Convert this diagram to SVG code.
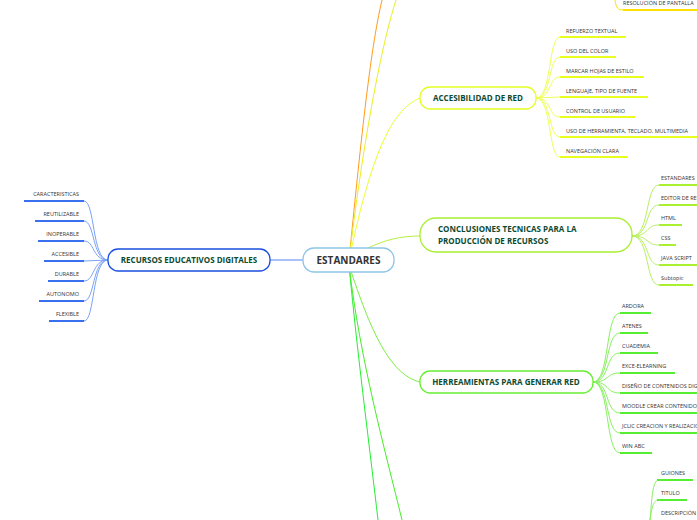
<svg xmlns="http://www.w3.org/2000/svg" width="697" height="520" viewBox="0 0 697 520">
<style>
.n{fill:#fff;stroke-width:1.3}
.t{font-family:"Open Sans",sans-serif;font-weight:bold;font-size:8px;fill:#0d4a30}
.l{font-family:"Open Sans",sans-serif;font-size:5.5px;fill:#333}
.c{fill:none;stroke-width:1}
.u{stroke-width:2}
</style>
<rect width="697" height="520" fill="#fff"/>
<g id="connectors">
<path class="c" d="M349 260 C360 150 370 50 382 0" stroke="#ff9b1a" stroke-width="1.6"/>
<path class="c" d="M349 260 C362 150 380 50 396 0" stroke="#e8f020" stroke-width="1.2"/>
<path class="c" d="M349 260 C370 160 390 110 420 98" stroke="#e8ff30"/>
<path class="c" d="M368 248 C385 240 400 236 420 236" stroke="#b4f040"/>
<path class="c" d="M349 265 C370 330 390 375 420 382" stroke="#7aee40"/>
<path class="c" d="M349 265 C358 360 370 450 378 520" stroke="#22ee33" stroke-width="1.6"/>
<path class="c" d="M349 265 C360 360 385 450 402 520" stroke="#44ee22" stroke-width="1.3"/>
<path class="c" d="M303 260 L270 260" stroke="#5585f0" stroke-width="1.3"/>
<g stroke="#7aa2f5" class="c">
<path d="M108 260 C92 260 95 201 84 201"/><path d="M108 260 C92 260 95 221 84 221"/><path d="M108 260 C92 260 95 241 84 241"/><path d="M108 260 L84 261"/><path d="M108 260 C92 260 95 281 84 281"/><path d="M108 260 C92 260 95 301 84 301"/><path d="M108 260 C92 260 95 321 84 321"/>
</g>
<g stroke="#3a6ff0" class="u">
<line x1="24" y1="201" x2="84" y2="201"/><line x1="35" y1="221" x2="84" y2="221"/><line x1="38" y1="241" x2="84" y2="241"/><line x1="44" y1="261" x2="84" y2="261"/><line x1="48" y1="281" x2="84" y2="281"/><line x1="39" y1="301" x2="84" y2="301"/><line x1="49" y1="321" x2="84" y2="321"/>
</g>
<g stroke="#eeff55" class="c">
<path d="M536 98 C552 98 548 37 560 37"/><path d="M536 98 C552 98 548 57 560 57"/><path d="M536 98 C552 98 548 77 560 77"/><path d="M536 98 L560 97"/><path d="M536 98 C552 98 548 117 560 117"/><path d="M536 98 C552 98 548 137 560 137"/><path d="M536 98 C552 98 548 157 560 157"/>
<path d="M615 0 C616 8 618 10 623 10" stroke="#ffe000"/>
</g>
<g stroke="#e8ff20" class="u">
<line x1="560" y1="37" x2="626" y2="37"/><line x1="560" y1="57" x2="616" y2="57"/><line x1="560" y1="77" x2="644" y2="77"/><line x1="560" y1="97" x2="648" y2="97"/><line x1="560" y1="117" x2="635" y2="117"/><line x1="560" y1="137" x2="697" y2="137"/><line x1="560" y1="157" x2="628" y2="157"/>
<line x1="623" y1="10" x2="697" y2="10" stroke="#ffe000"/>
</g>
<g stroke="#b8f060" class="c">
<path d="M632 236 C650 236 645 185 659 185"/><path d="M632 236 C650 236 645 205 659 205"/><path d="M632 236 C650 236 645 225 659 225"/><path d="M632 236 C650 236 645 245 659 245"/><path d="M632 236 C650 236 645 265 659 265"/><path d="M632 236 C650 236 645 285 659 285"/>
</g>
<g stroke="#a8f030" class="u">
<line x1="659" y1="185" x2="697" y2="185"/><line x1="659" y1="205" x2="697" y2="205"/><line x1="659" y1="225" x2="682" y2="225"/><line x1="659" y1="245" x2="676" y2="245"/><line x1="659" y1="265" x2="697" y2="265"/><line x1="659" y1="285" x2="693" y2="285"/>
</g>
<g stroke="#88f060" class="c">
<path d="M593 382 C610 382 605 313 620 313"/><path d="M593 382 C610 382 605 333 620 333"/><path d="M593 382 C610 382 605 353 620 353"/><path d="M593 382 C610 382 605 373 620 373"/><path d="M593 382 C610 382 605 393 620 393"/><path d="M593 382 C610 382 605 413 620 413"/><path d="M593 382 C610 382 605 433 620 433"/><path d="M593 382 C610 382 605 453 620 453"/>
<path d="M650 520 C652 500 652 480 659 480"/><path d="M650 520 C652 505 654 500 659 500"/>
</g>
<g stroke="#55ee33" class="u">
<line x1="620" y1="313" x2="651" y2="313"/><line x1="620" y1="333" x2="648" y2="333"/><line x1="620" y1="353" x2="658" y2="353"/><line x1="620" y1="373" x2="675" y2="373"/><line x1="620" y1="393" x2="697" y2="393"/><line x1="620" y1="413" x2="697" y2="413"/><line x1="620" y1="433" x2="697" y2="433"/><line x1="620" y1="453" x2="652" y2="453"/>
<line x1="657" y1="480" x2="693" y2="480"/><line x1="657" y1="500" x2="687" y2="500"/>
</g>
</g>
<g id="estandares"><rect class="n" x="303" y="248" width="91" height="24" rx="11" stroke="#8ec5e8" stroke-width="2"/><text x="348.5" y="264" text-anchor="middle" style="font-family:'Open Sans',sans-serif;font-weight:bold;font-size:10px;fill:#333">ESTANDARES</text></g>
<g id="recursos"><rect class="n" x="108" y="249" width="162" height="22" rx="10" stroke="#1a4fe0"/><text class="t" x="189" y="263" text-anchor="middle">RECURSOS EDUCATIVOS DIGITALES</text></g>
<g id="accesibilidad"><rect class="n" x="420" y="87" width="116" height="22" rx="10" stroke="#e4ff22"/><text class="t" x="478" y="101" text-anchor="middle">ACCESIBILIDAD DE RED</text></g>
<g id="conclusiones"><rect class="n" x="420" y="218" width="212" height="34" rx="16" stroke="#a8f030"/><text class="t" x="438" y="232">CONCLUSIONES TECNICAS PARA LA</text><text class="t" x="438" y="244">PRODUCCIÓN DE RECURSOS</text></g>
<g id="herramientas"><rect class="n" x="420" y="371" width="173" height="22" rx="10" stroke="#66ee33"/><text class="t" x="506" y="385" text-anchor="middle">HERREAMIENTAS PARA GENERAR RED</text></g>
<g id="leaves">
<g class="l" text-anchor="end"><text x="79" y="196">CARACTERISTICAS</text><text x="79" y="216">REUTILIZABLE</text><text x="79" y="236">INOPERABLE</text><text x="79" y="256">ACCESIBLE</text><text x="79" y="276">DURABLE</text><text x="79" y="296">AUTONOMO</text><text x="79" y="316">FLEXIBLE</text></g>
<g class="l"><text x="623" y="5">RESOLUCIÓN DE PANTALLA</text>
<text x="566" y="33">REFUERZO TEXTUAL</text><text x="566" y="53">USO DEL COLOR</text><text x="566" y="73">MARCAR HOJAS DE ESTILO</text><text x="566" y="93">LENGUAJE, TIPO DE FUENTE</text><text x="566" y="113">CONTROL DE USUARIO</text><text x="566" y="133">USO DE HERRAMIENTA, TECLADO, MULTIMEDIA</text><text x="566" y="153">NAVEGACIÓN CLARA</text>
<text x="661" y="180">ESTANDARES</text><text x="661" y="200">EDITOR DE RED</text><text x="661" y="220">HTML</text><text x="661" y="240">CSS</text><text x="661" y="260">JAVA SCRIPT</text><text x="661" y="280">Subtopic</text>
<text x="622" y="308">ARDORA</text><text x="622" y="328">ATENES</text><text x="622" y="348">CUADEMIA</text><text x="622" y="368">EXCE-ELEARNING</text><text x="622" y="388">DISEÑO DE CONTENIDOS DIGITALES</text><text x="622" y="408">MOODLE CREAR CONTENIDOS</text><text x="622" y="428">JCLIC  CREACION Y REALIZACION</text><text x="622" y="448">WIN ABC</text>
<text x="661" y="475">GUIONES</text><text x="661" y="495">TITULO</text><text x="661" y="515">DESCRIPCIÓN</text></g>
</g>
</svg>
